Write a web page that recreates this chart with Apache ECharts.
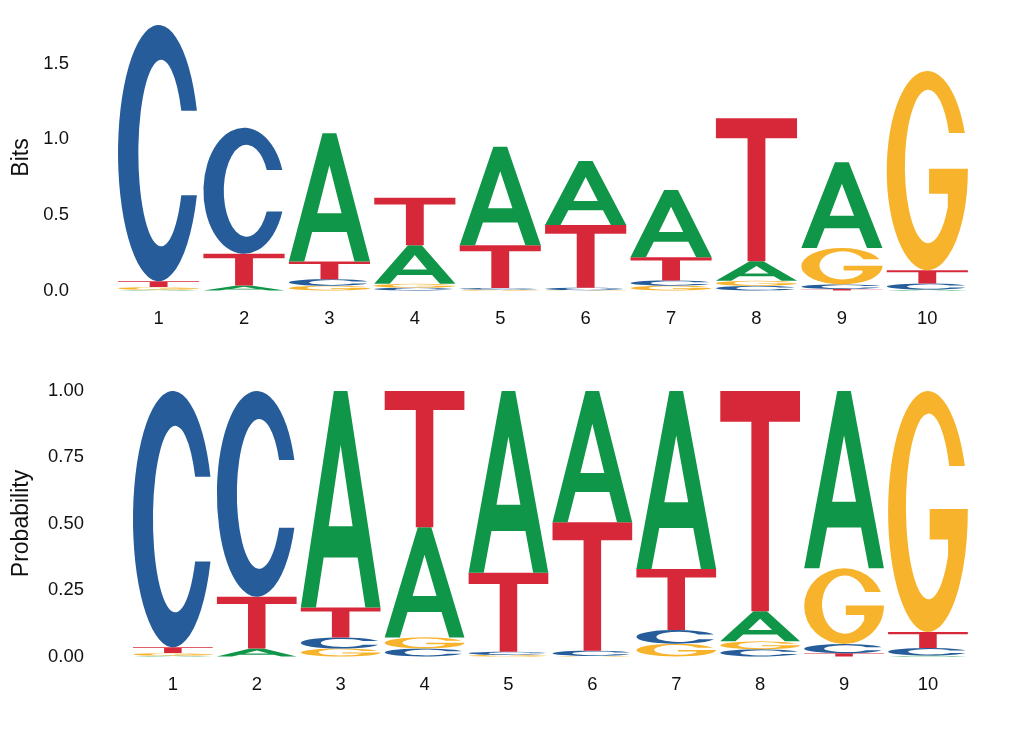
<!DOCTYPE html>
<html><head><meta charset="utf-8">
<script src="https://cdn.jsdelivr.net/npm/echarts@6/dist/echarts.min.js"></script>
<style>html,body{margin:0;padding:0;background:#fff}#c{width:1024px;height:731px}</style>
</head><body><div id="c"></div>
<script>
// ---- data ----
const positions = ['1','2','3','4','5','6','7','8','9','10'];
const letters = ['A','C','G','T'];
const probA = [0.003, 0.030, 0.815, 0.415, 0.685, 0.494, 0.670, 0.113, 0.668, 0.004];
const probC = [0.965, 0.775, 0.042, 0.030, 0.012, 0.020, 0.052, 0.027, 0.035, 0.028];
const probG = [0.010, 0.000, 0.030, 0.042, 0.006, 0.002, 0.048, 0.030, 0.285, 0.908];
const probT = [0.022, 0.195, 0.113, 0.513, 0.297, 0.484, 0.230, 0.830, 0.012, 0.060];
// total information content (bits) of each position
const infoBits = [1.755, 1.076, 1.039, 0.613, 0.950, 0.856, 0.664, 1.138, 0.847, 1.451];
const bitsTicks = [0, 0.5, 1.0, 1.5];
const probTicks = [0, 0.25, 0.5, 0.75, 1.0];

// ---- glyph outlines (unit box 0..100) and colours ----
const glyphPaths = {
  A: 'M0,100 L41.5,0 L58.5,0 L100,100 L81,100 L71.3,77 L28.7,77 L19,100 Z M35,62.5 L65,62.5 L50,25 Z',
  C: 'M100,33.5 L97.2,33.5 A50,50 0 1,0 97.2,66.5 L100,66.5 L78,66.5 A28,36.4 0 1,1 78,33.5 Z',
  G: 'M96.3,31 A50,50 0 1,0 99.75,55 L100,48.9 L52.2,48.9 L52.2,61.5 L75.3,61.5 L75.3,68 A28.6,38.5 0 1,1 76.7,31 Z',
  T: 'M0,0 L100,0 L100,14 L61,14 L61,100 L39,100 L39,14 L0,14 Z'
};
const glyphColors = { A: '#109648', C: '#255C99', G: '#F7B32B', T: '#D62839' };

const probs = [probA, probC, probG, probT];

function buildStacks(useBits) {
  const out = [];
  positions.forEach((p, i) => {
    const items = letters.map((l, k) => ({ k, v: probs[k][i] * (useBits ? infoBits[i] : 1) }))
      .filter(d => d.v > 0)
      .sort((a, b) => a.v - b.v);
    let y = 0;
    items.forEach(d => { out.push([i, y, y + d.v, d.k]); y += d.v; });
  });
  return out;
}

function renderLetter(params, api) {
  const x = api.value(0), y0 = api.value(1), y1 = api.value(2), k = api.value(3);
  const pb = api.coord([x, y0]);
  const pt = api.coord([x, y1]);
  const bw = api.size([1, 0])[0] * 0.95;
  const h = pb[1] - pt[1];
  if (h <= 0) return null;
  const l = letters[k];
  return {
    type: 'path',
    shape: { pathData: glyphPaths[l], x: pb[0] - bw / 2, y: pt[1], width: bw, height: h, layout: 'cover' },
    style: { fill: glyphColors[l], stroke: null }
  };
}

const FONT = 'Liberation Sans, Arial, Helvetica, sans-serif';
const tickLabel = { color: '#111', fontSize: 18.4, fontFamily: FONT };

const chart = echarts.init(document.getElementById('c'), null, { renderer: 'canvas' });
chart.setOption({
  animation: false,
  backgroundColor: '#fff',
  grid: [
    { left: 115.9, width: 854.1, top: 24.5, height: 266 },
    { left: 130.9, width: 839, top: 391, height: 265.5 }
  ],
  xAxis: [0, 1].map(g => ({
    type: 'category', gridIndex: g, data: positions,
    axisLine: { show: false }, axisTick: { show: false }, splitLine: { show: false },
    axisLabel: Object.assign({ margin: 19 }, tickLabel)
  })),
  yAxis: [
    { type: 'value', gridIndex: 0, min: 0, max: 1.758, interval: 0.5,
      axisLine: { show: false }, axisTick: { show: false }, splitLine: { show: false },
      axisLabel: Object.assign({ margin: 47, showMaxLabel: false,
        formatter: v => bitsTicks.some(t => Math.abs(t - v) < 1e-9) ? v.toFixed(1) : '' }, tickLabel) },
    { type: 'value', gridIndex: 1, min: 0, max: 1, interval: 0.25,
      axisLine: { show: false }, axisTick: { show: false }, splitLine: { show: false },
      axisLabel: Object.assign({ margin: 47,
        formatter: v => probTicks.some(t => Math.abs(t - v) < 1e-9) ? v.toFixed(2) : '' }, tickLabel) }
  ],
  graphic: [
    { type: 'text', x: 22, y: 157.5, rotation: Math.PI / 2,
      style: { text: 'Bits', fill: '#111', font: '23px ' + FONT, align: 'center', verticalAlign: 'middle' } },
    { type: 'text', x: 22, y: 523.5, rotation: Math.PI / 2,
      style: { text: 'Probability', fill: '#111', font: '23px ' + FONT, align: 'center', verticalAlign: 'middle' } }
  ],
  series: [
    { type: 'custom', xAxisIndex: 0, yAxisIndex: 0, renderItem: renderLetter,
      encode: { x: 0, y: [1, 2] }, data: buildStacks(true) },
    { type: 'custom', xAxisIndex: 1, yAxisIndex: 1, renderItem: renderLetter,
      encode: { x: 0, y: [1, 2] }, data: buildStacks(false) }
  ]
});
</script></body></html>
